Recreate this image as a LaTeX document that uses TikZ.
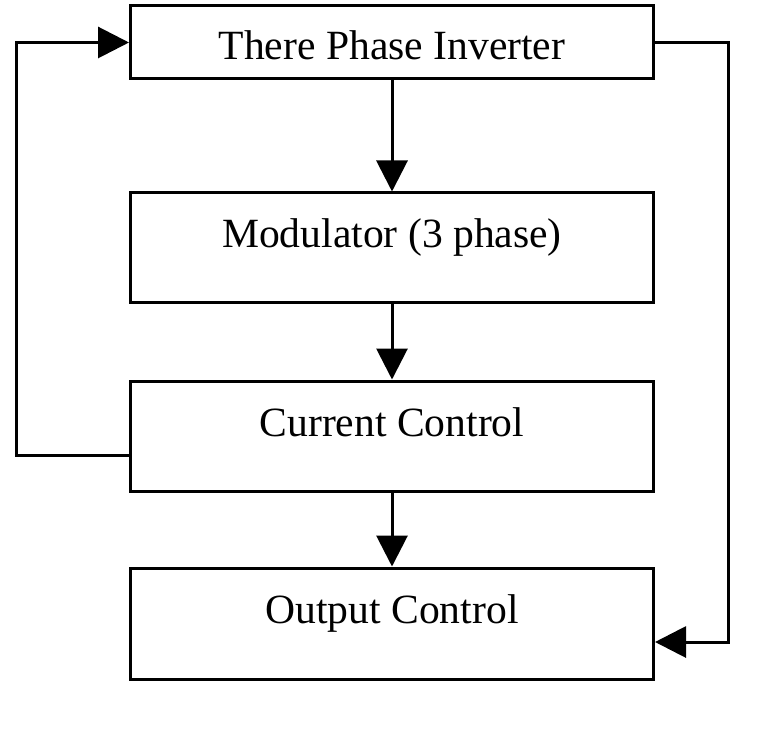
\documentclass[tikz,border=0pt]{standalone}
\usepackage{fontspec}
\setmainfont{Liberation Serif}
\usetikzlibrary{positioning,arrows.meta}
\tikzset{
  blk/.style={draw,line width=1.5pt,minimum width=261.5pt,inner sep=0pt,font=\fontsize{20.8}{24}\selectfont,text height=10pt,text depth=10pt},
  flow/.style={line width=1.5pt,-{Triangle[length=15.5pt,width=15.5pt]}},
  fb/.style={line width=1.5pt}
}
\begin{document}
\begin{tikzpicture}[x=0.5pt,y=-0.5pt]
  \useasboundingbox (0,0) rectangle (758,731);
  \node[blk,minimum height=36.5pt,text height=17.5pt,text depth=0pt] (inv) at (392,42.5) {There Phase Inverter};
  \node[blk,minimum height=55pt] (mod) at (392,248) {Modulator (3 phase)};
  \node[blk,minimum height=55pt] (cur) at (392,436) {Current Control};
  \node[blk,minimum height=55.5pt] (outc) at (392,623.5) {Output Control};
  \coordinate (lft) at (16,455);
  \coordinate (rgt) at (728,42.5);
  % main chain
  \draw[flow] (inv) -- (mod); \draw[flow] (mod) -- (cur); \draw[flow] (cur) -- (outc);
  % feedback loops
  \draw[flow] ([yshift=-9.5pt]cur.west) -- (lft) |- (inv.west);
  \draw[flow] (inv.east) -- (rgt) |- ([yshift=-9.25pt]outc.east);
\end{tikzpicture}
\end{document}
